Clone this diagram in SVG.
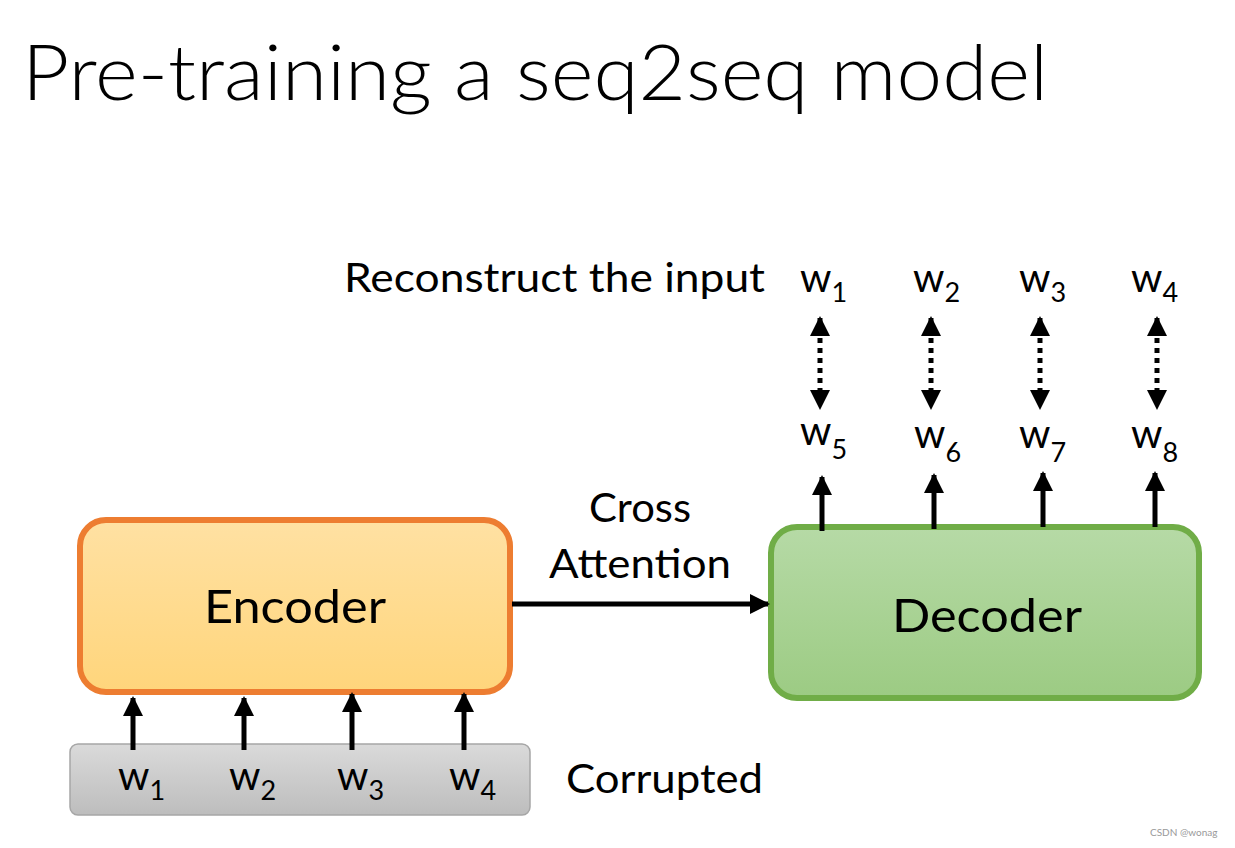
<svg xmlns="http://www.w3.org/2000/svg" width="1235" height="848" viewBox="0 0 1235 848">
<style>
text{font-family:Lato,"Open Sans","Liberation Sans",sans-serif;fill:#000}
.w{font-size:40px}
.s{font-size:27px}
.a{stroke:#000;stroke-width:5;fill:none}
.d{stroke:#000;stroke-width:5;stroke-dasharray:5,5;fill:none}
</style>
<defs>
<linearGradient id="ge" x1="0" y1="0" x2="0" y2="1"><stop offset="0" stop-color="#FFE1A3"/><stop offset="1" stop-color="#FFD57B"/></linearGradient>
<linearGradient id="gd" x1="0" y1="0" x2="0" y2="1"><stop offset="0" stop-color="#B6DAA6"/><stop offset="1" stop-color="#9CCB83"/></linearGradient>
<linearGradient id="gg" x1="0" y1="0" x2="0" y2="1"><stop offset="0" stop-color="#DADADA"/><stop offset="1" stop-color="#BDBDBD"/></linearGradient>
<marker id="h" viewBox="0 0 10 10" refX="9" refY="5" markerWidth="4" markerHeight="4" orient="auto-start-reverse"><path d="M0,0L10,5L0,10z" fill="#000"/></marker>
</defs>
<rect width="1235" height="848" fill="#fff"/>
<text x="22" y="100" textLength="1026" lengthAdjust="spacingAndGlyphs" style="font-size:76px;font-weight:300">Pre-training a seq2seq model</text>
<g id="corrupted"><rect x="70" y="744" width="460" height="71" rx="8" fill="url(#gg)" stroke="#A6A6A6" stroke-width="1.5"/>
<text class="w" x="118" y="790">w<tspan class="s" dy="10">1</tspan></text>
<text class="w" x="229" y="790">w<tspan class="s" dy="10">2</tspan></text>
<text class="w" x="337" y="790">w<tspan class="s" dy="10">3</tspan></text>
<text class="w" x="449" y="790">w<tspan class="s" dy="10">4</tspan></text></g>
<text class="w" x="566" y="793" textLength="197" lengthAdjust="spacingAndGlyphs">Corrupted</text>
<g id="encoder"><rect x="80" y="520" width="430" height="172" rx="26" fill="url(#ge)" stroke="#ED7D31" stroke-width="6"/>
<text x="204" y="623" textLength="182" lengthAdjust="spacingAndGlyphs" style="font-size:46px">Encoder</text></g>
<g id="decoder"><rect x="771" y="527" width="428" height="171" rx="26" fill="url(#gd)" stroke="#70AD47" stroke-width="6"/>
<text x="892" y="632" textLength="190" lengthAdjust="spacingAndGlyphs" style="font-size:46px">Decoder</text></g>
<text class="w" x="589" y="522" textLength="102" lengthAdjust="spacingAndGlyphs">Cross</text>
<text class="w" x="549" y="578" textLength="182" lengthAdjust="spacingAndGlyphs">Attention</text>
<text class="w" x="344" y="292" textLength="421" lengthAdjust="spacingAndGlyphs">Reconstruct the input</text>
<g id="outputs">
<text class="w" x="800" y="292">w<tspan class="s" dy="10">1</tspan></text>
<text class="w" x="913" y="292">w<tspan class="s" dy="10">2</tspan></text>
<text class="w" x="1019" y="292">w<tspan class="s" dy="10">3</tspan></text>
<text class="w" x="1131" y="292">w<tspan class="s" dy="10">4</tspan></text>
<text class="w" x="800" y="445">w<tspan class="s" dy="14">5</tspan></text>
<text class="w" x="914" y="448">w<tspan class="s" dy="14">6</tspan></text>
<text class="w" x="1019" y="448">w<tspan class="s" dy="14">7</tspan></text>
<text class="w" x="1131" y="448">w<tspan class="s" dy="14">8</tspan></text>
</g>
<g id="connectors">
<line class="a" x1="133" y1="750" x2="133" y2="698" marker-end="url(#h)"/>
<line class="a" x1="244" y1="750" x2="244" y2="698" marker-end="url(#h)"/>
<line class="a" x1="352" y1="750" x2="352" y2="694" marker-end="url(#h)"/>
<line class="a" x1="464" y1="750" x2="464" y2="694" marker-end="url(#h)"/>
<line class="a" x1="512" y1="604" x2="768" y2="604" marker-end="url(#h)"/>
<line class="a" x1="822" y1="531" x2="822" y2="477" marker-end="url(#h)"/>
<line class="a" x1="934" y1="529" x2="934" y2="475" marker-end="url(#h)"/>
<line class="a" x1="1043" y1="527" x2="1043" y2="473" marker-end="url(#h)"/>
<line class="a" x1="1155" y1="527" x2="1155" y2="473" marker-end="url(#h)"/>
<line class="d" x1="820" y1="318" x2="820" y2="408" marker-start="url(#h)" marker-end="url(#h)"/>
<line class="d" x1="931" y1="318" x2="931" y2="408" marker-start="url(#h)" marker-end="url(#h)"/>
<line class="d" x1="1040" y1="318" x2="1040" y2="408" marker-start="url(#h)" marker-end="url(#h)"/>
<line class="d" x1="1157" y1="318" x2="1157" y2="408" marker-start="url(#h)" marker-end="url(#h)"/>
</g>
<text x="1150" y="836" style="font-size:10px;fill:#999">CSDN @wonag</text>
</svg>
